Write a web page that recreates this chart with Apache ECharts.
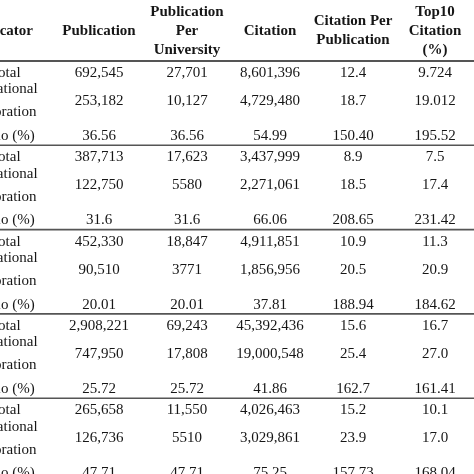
<!DOCTYPE html>
<html><head><meta charset="utf-8">
<script src="https://cdn.jsdelivr.net/npm/echarts@6/dist/echarts.min.js"></script>
<style>html,body{margin:0;padding:0;background:#fff}#c{width:474px;height:474px}</style>
</head><body><div id="c"></div>
<script>
const headers = ["Indicator", "Publication", "Publication\nPer\nUniversity", "Citation", "Citation Per\nPublication", "Top10\nCitation\n(%)"];
const rowLabels = ["Total", "International\nCollaboration", "Ratio (%)"];
const publication = ["692,545","253,182","36.56","387,713","122,750","31.6","452,330","90,510","20.01","2,908,221","747,950","25.72","265,658","126,736","47.71"];
const pubPerUniv = ["27,701","10,127","36.56","17,623","5580","31.6","18,847","3771","20.01","69,243","17,808","25.72","11,550","5510","47.71"];
const citation = ["8,601,396","4,729,480","54.99","3,437,999","2,271,061","66.06","4,911,851","1,856,956","37.81","45,392,436","19,000,548","41.86","4,026,463","3,029,861","75.25"];
const citPerPub = ["12.4","18.7","150.40","8.9","18.5","208.65","10.9","20.5","188.94","15.6","25.4","162.7","15.2","23.9","157.73"];
const top10 = ["9.724","19.012","195.52","7.5","17.4","231.42","11.3","20.9","184.62","16.7","27.0","161.41","10.1","17.0","168.04"];

const cols = [publication, pubPerUniv, citation, citPerPub, top10];
const colX = [99, 187, 270, 353, 435];
const font = '"Liberation Serif", serif';
const g = [];
function txt(x, y, s, opt) {
  g.push({type:'text', x:x, y:y, style:Object.assign({text:s, fill:'#161616', font:'15px '+font, textAlign:'center', textVerticalAlign:'middle', lineHeight:19}, opt||{})});
}
txt(-27, 31, headers[0], {textAlign:'left', font:'bold 15px '+font});
for (let c = 0; c < 5; c++) txt(colX[c], 31, headers[c+1], {font:'bold 15px '+font});
const blockTop = 61, blockH = 84.3;
const rowOff = [12, 40, 75];
function line(y, w) { g.push({type:'line', shape:{x1:0, y1:y, x2:474, y2:y}, style:{stroke:'#555', lineWidth:w}}); }
line(blockTop, 2);
const labelX = [[-10], [-39, -46], [-24]];
for (let b = 0; b < 5; b++) {
  const y0 = blockTop + b*blockH;
  if (b > 0) line(y0, 1.6);
  for (let r = 0; r < 3; r++) {
    const y = y0 + rowOff[r];
    const parts = rowLabels[r].split('\n');
    parts.forEach((p, i) => {
      const dy = (i - (parts.length - 1) / 2) * 23;
      txt(labelX[r][i], y + dy, p, {textAlign:'left'});
    });
    for (let c = 0; c < 5; c++) txt(colX[c], y, cols[c][b*3+r]);
  }
}
const chart = echarts.init(document.getElementById('c'));
chart.setOption({animation:false, graphic:g});
</script></body></html>
